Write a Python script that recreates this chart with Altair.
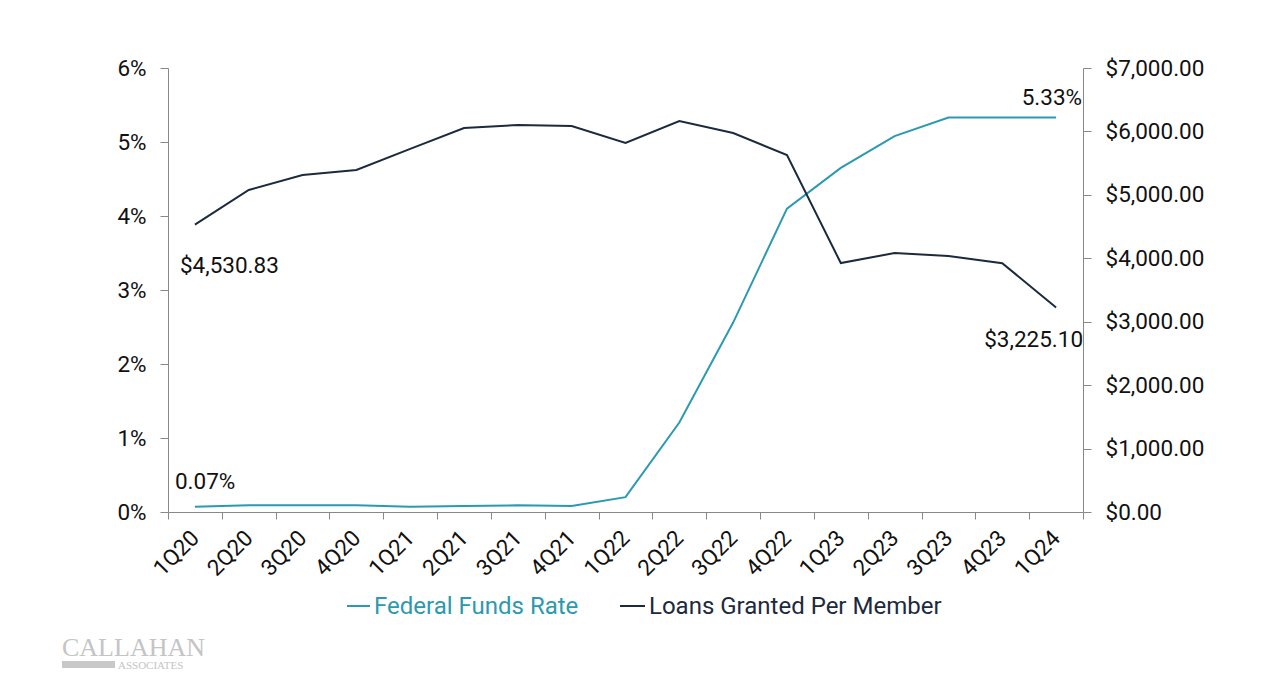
import altair as alt
import pandas as pd

quarters = ["1Q20", "2Q20", "3Q20", "4Q20", "1Q21", "2Q21", "3Q21", "4Q21", "1Q22",
            "2Q22", "3Q22", "4Q22", "1Q23", "2Q23", "3Q23", "4Q23", "1Q24"]
fed_funds = [0.07, 0.09, 0.09, 0.09, 0.07, 0.08, 0.09, 0.08, 0.20,
             1.21, 2.56, 4.10, 4.65, 5.08, 5.33, 5.33, 5.33]
loans = [4530.83, 5077, 5313, 5392, 5725, 6054, 6100, 6085, 5817,
         6164, 5975, 5628, 3925, 4083, 4036, 3922, 3225.10]

TEAL = "#2B9AB0"
NAVY = "#1C2A3E"
FONT = "Roboto"
FS = 22.5

df = pd.DataFrame({"q": quarters, "ffr": fed_funds, "loans": loans})

xenc = alt.X("q:N", sort=quarters, title=None,
             scale=alt.Scale(type="band", paddingInner=0, paddingOuter=0),
             axis=alt.Axis(labelAngle=-45, labelFontSize=FS, labelColor="#111",
                           labelFont=FONT, tickBand="extent", tickSize=7,
                           tickColor="#888", domainColor="#888", labelPadding=15,
                           labelAlign="right", labelBaseline="middle"))

ffr_line = alt.Chart(df).mark_line(color=TEAL, strokeWidth=2).encode(
    x=xenc,
    y=alt.Y("ffr:Q", title=None,
            scale=alt.Scale(domain=[0, 6], nice=False),
            axis=alt.Axis(orient="left", values=[0, 1, 2, 3, 4, 5, 6],
                          labelExpr="datum.value + '%'", labelFontSize=FS,
                          labelColor="#111", labelFont=FONT, grid=False,
                          tickSize=8, tickColor="#888", domainColor="#888",
                          labelPadding=14)),
)

ffr_ann = pd.DataFrame({"q": ["1Q20", "1Q24"], "ffr": [0.07, 5.33],
                        "txt": ["0.07%", "5.33%"]})
ffr_t1 = alt.Chart(ffr_ann.iloc[[0]]).mark_text(
    align="left", baseline="middle", dx=-20, dy=-25, fontSize=FS, font=FONT, color="#111"
).encode(x=xenc, y=alt.Y("ffr:Q"), text="txt:N")
ffr_t2 = alt.Chart(ffr_ann.iloc[[1]]).mark_text(
    align="right", baseline="middle", dx=26, dy=-20, fontSize=FS, font=FONT, color="#111"
).encode(x=xenc, y=alt.Y("ffr:Q"), text="txt:N")

loan_line = alt.Chart(df).mark_line(color=NAVY, strokeWidth=2).encode(
    x=xenc,
    y=alt.Y("loans:Q", title=None,
            scale=alt.Scale(domain=[0, 7000], nice=False),
            axis=alt.Axis(orient="right", values=[0, 1000, 2000, 3000, 4000, 5000, 6000, 7000],
                          format="$,.2f", labelFontSize=FS, labelColor="#111",
                          labelFont=FONT, grid=False, tickSize=8, tickColor="#888",
                          domainColor="#888", labelPadding=14)),
)

loan_ann = pd.DataFrame({"q": ["1Q20", "1Q24"], "loans": [4530.83, 3225.10],
                         "txt": ["$4,530.83", "$3,225.10"]})
loan_t1 = alt.Chart(loan_ann.iloc[[0]]).mark_text(
    align="left", baseline="middle", dx=-15, dy=41, fontSize=FS, font=FONT, color="#111"
).encode(x=xenc, y=alt.Y("loans:Q"), text="txt:N")
loan_t2 = alt.Chart(loan_ann.iloc[[1]]).mark_text(
    align="right", baseline="middle", dx=27, dy=33, fontSize=FS, font=FONT, color="#111"
).encode(x=xenc, y=alt.Y("loans:Q"), text="txt:N")

one = pd.DataFrame({"a": [0]})

legend_names = ["Federal Funds Rate", "Loans Granted Per Member"]
leg_r1 = alt.Chart(one).mark_rule(color=TEAL, strokeWidth=2).encode(
    x=alt.value(179), x2=alt.value(202), y=alt.value(538))
leg_t1 = alt.Chart(one).mark_text(align="left", baseline="middle", fontSize=24,
                                  font=FONT, color=TEAL, text=legend_names[0]).encode(
    x=alt.value(206), y=alt.value(539))
leg_r2 = alt.Chart(one).mark_rule(color=NAVY, strokeWidth=2).encode(
    x=alt.value(452), x2=alt.value(477), y=alt.value(538))
leg_t2 = alt.Chart(one).mark_text(align="left", baseline="middle", fontSize=24,
                                  font=FONT, color=NAVY, text=legend_names[1]).encode(
    x=alt.value(481), y=alt.value(539))

logo_t1 = alt.Chart(one).mark_text(align="left", baseline="alphabetic", fontSize=26,
                                   font="Liberation Serif", color="#C4C4C4",
                                   text="CALLAHAN").encode(
    x=alt.value(-106), y=alt.value(588))
logo_bar = alt.Chart(one).mark_rect(color="#C8C8C8").encode(
    x=alt.value(-106), x2=alt.value(-53), y=alt.value(593), y2=alt.value(600))
logo_t2 = alt.Chart(one).mark_text(align="left", baseline="alphabetic", fontSize=11,
                                   font="Liberation Serif", color="#C4C4C4",
                                   text="ASSOCIATES").encode(
    x=alt.value(-50), y=alt.value(601))

left = alt.layer(ffr_line, ffr_t1, ffr_t2)
right = alt.layer(loan_line, loan_t1, loan_t2)
extras = alt.layer(leg_r1, leg_t1, leg_r2, leg_t2, logo_bar, logo_t1, logo_t2)

chart = alt.layer(left, right, extras).resolve_scale(y="independent").properties(
    width=915, height=444,
    autosize=alt.AutoSizeParams(type="none"),
    padding={"left": 168, "top": 68, "right": 197, "bottom": 180},
    background="white",
).configure_view(stroke=None)

chart.save("out.html", embed_options={"renderer": "svg", "actions": False})
